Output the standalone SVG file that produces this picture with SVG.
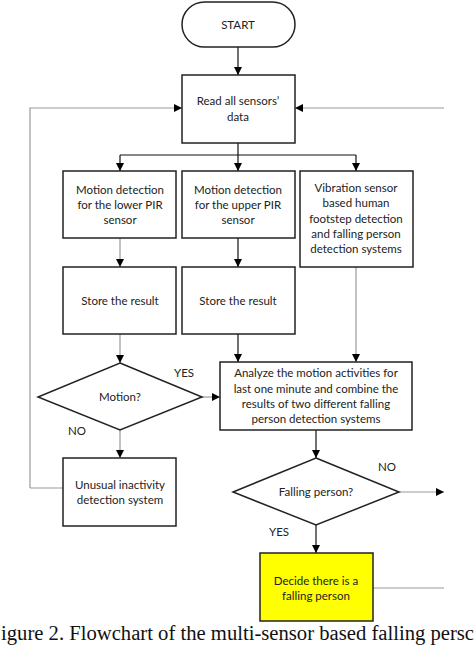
<svg xmlns="http://www.w3.org/2000/svg" width="474" height="647" viewBox="0 0 474 647">
<defs>
<marker id="ah" viewBox="0 0 10 10" refX="10" refY="5" markerWidth="8" markerHeight="8" markerUnits="userSpaceOnUse" orient="auto">
<path d="M0,0 L10,5 L0,10 Z" fill="#000"/>
</marker>
</defs>
<style>
.box{fill:#fff;stroke:#222;stroke-width:1.5}
.yel{fill:#ffff00;stroke:#222;stroke-width:1.5}
.t{font-family:Lato,"Open Sans","Liberation Sans",sans-serif;font-size:11.5px;fill:#222;text-anchor:middle}
.l{fill:none;stroke:#111;stroke-width:1.2}
.g{fill:none;stroke:#999;stroke-width:1.2}
.cap{font-family:"Liberation Serif","Times New Roman",serif;font-size:20px;fill:#111}
</style>
<rect width="474" height="647" fill="#fff"/>
<g id="connectors">
<path class="l" d="M238,47 V75" marker-end="url(#ah)"/>
<path class="g" d="M30,488 V108 H182" marker-end="url(#ah)"/>
<path class="g" d="M444,108 H295" marker-end="url(#ah)"/>
<path class="l" d="M238,143 V155"/>
<path class="l" d="M120,155 H356"/>
<path class="l" d="M120,155 V171" marker-end="url(#ah)"/>
<path class="l" d="M238,155 V171" marker-end="url(#ah)"/>
<path class="l" d="M356,155 V171" marker-end="url(#ah)"/>
<path class="g" d="M120,238 V267" marker-end="url(#ah)"/>
<path class="l" d="M238,238 V267" marker-end="url(#ah)"/>
<path class="g" d="M120,334 V363" marker-end="url(#ah)"/>
<path class="l" d="M238,334 V362" marker-end="url(#ah)"/>
<path class="g" d="M356,267 V362" marker-end="url(#ah)"/>
<path class="g" d="M202,397 H220" marker-end="url(#ah)"/>
<path class="g" d="M120,430 V458" marker-end="url(#ah)"/>
<path class="g" d="M63,488 H30"/>
<path class="l" d="M316,430 V458" marker-end="url(#ah)"/>
<path class="g" d="M399,492 H444" marker-end="url(#ah)"/>
<path class="l" d="M316,525 V553" marker-end="url(#ah)"/>
<path class="g" d="M373,588 H444"/>
</g>
<g id="start">
<rect class="box" x="182" y="2" width="113" height="45" rx="22.5"/>
<text class="t" x="238" y="29">START</text>
</g>
<g id="read">
<rect class="box" x="182" y="75" width="113" height="68"/>
<text class="t" x="238" y="105">Read all sensors’</text>
<text class="t" x="238" y="121">data</text>
</g>
<g id="lowerPIR">
<rect class="box" x="63" y="171" width="113" height="67"/>
<text class="t" x="120" y="194">Motion detection</text>
<text class="t" x="120" y="209">for the lower PIR</text>
<text class="t" x="120" y="224">sensor</text>
</g>
<g id="upperPIR">
<rect class="box" x="182" y="171" width="113" height="67"/>
<text class="t" x="238" y="194">Motion detection</text>
<text class="t" x="238" y="209">for the upper PIR</text>
<text class="t" x="238" y="224">sensor</text>
</g>
<g id="vibration">
<rect class="box" x="300" y="171" width="113" height="96"/>
<text class="t" x="356" y="192">Vibration sensor</text>
<text class="t" x="356" y="207">based human</text>
<text class="t" x="356" y="223">footstep detection</text>
<text class="t" x="356" y="238">and falling person</text>
<text class="t" x="356" y="253">detection systems</text>
</g>
<g id="store1">
<rect class="box" x="63" y="267" width="113" height="67"/>
<text class="t" x="120" y="305">Store the result</text>
</g>
<g id="store2">
<rect class="box" x="182" y="267" width="113" height="67"/>
<text class="t" x="238" y="305">Store the result</text>
</g>
<g id="motion">
<path class="box" d="M120,363 L202,397 L120,430 L38,397 Z"/>
<text class="t" x="120" y="401">Motion?</text>
<text class="t" x="184" y="377">YES</text>
<text class="t" x="77" y="435">NO</text>
</g>
<g id="analyze">
<rect class="box" x="220" y="362" width="192" height="68"/>
<text class="t" x="316" y="377">Analyze the motion activities for</text>
<text class="t" x="316" y="393">last one minute and combine the</text>
<text class="t" x="316" y="408">results of two different falling</text>
<text class="t" x="316" y="423">person detection systems</text>
</g>
<g id="unusual">
<rect class="box" x="63" y="458" width="113" height="68"/>
<text class="t" x="120" y="489">Unusual inactivity</text>
<text class="t" x="120" y="504">detection system</text>
</g>
<g id="falling">
<path class="box" d="M316,458 L399,492 L316,525 L233,492 Z"/>
<text class="t" x="316" y="496">Falling person?</text>
<text class="t" x="387" y="471">NO</text>
<text class="t" x="279" y="536">YES</text>
</g>
<g id="decide">
<rect class="yel" x="260" y="553" width="113" height="68"/>
<text class="t" x="316" y="585">Decide there is a</text>
<text class="t" x="316" y="600">falling person</text>
</g>
<text class="cap" x="1" y="640" textLength="473" lengthAdjust="spacingAndGlyphs">igure 2. Flowchart of the multi-sensor based falling persc</text>
</svg>
